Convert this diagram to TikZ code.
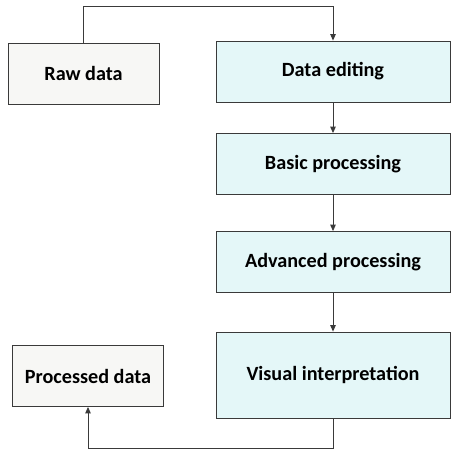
\documentclass[tikz,border=0pt]{standalone}
\usepackage{fontspec}
\setmainfont{Carlito}
\usetikzlibrary{arrows.meta}
\definecolor{boxblue}{HTML}{E4F7F8}
\definecolor{boxgray}{HTML}{F7F7F5}
\definecolor{edgegray}{HTML}{3A3A3A}

\begin{document}
\begin{tikzpicture}[x=1pt,y=-1pt,
  stage/.style={draw=edgegray, fill=boxblue, line width=0.8pt, minimum width=234pt,
    minimum height=61pt, inner sep=0pt, font=\bfseries\fontsize{20.2}{24}\selectfont},
  datbox/.style={stage, fill=boxgray, minimum width=151pt},
  flow/.style={draw=edgegray, line width=0.9pt, -{Triangle[length=6.5pt,width=5.5pt]}}]
\useasboundingbox (0,0) rectangle (474,474);
% data boxes
\node[datbox] (raw) at (83.5,73.5) {Raw data};
\node[datbox] (done) at (88,376) {Processed data};
% processing stages
\node[stage] (edit) at (333,71.5) {Data editing};
\node[stage] (basic) at (333,164) {Basic processing};
\node[stage] (adv) at (333,262) {Advanced processing};
\node[stage, minimum height=86pt] (visual) at (333,375) {Visual interpretation};
% connectors
\coordinate (top) at (333,6);
\coordinate (bottom) at (333,448);
\draw[flow] (raw.north) |- (top) -- (edit.north);
\draw[flow] (edit) -- (basic);
\draw[flow] (basic) -- (adv);
\draw[flow] (adv) -- (visual);
\draw[flow] (visual.south) -- (bottom) -| (done.south);
\end{tikzpicture}
\end{document}
